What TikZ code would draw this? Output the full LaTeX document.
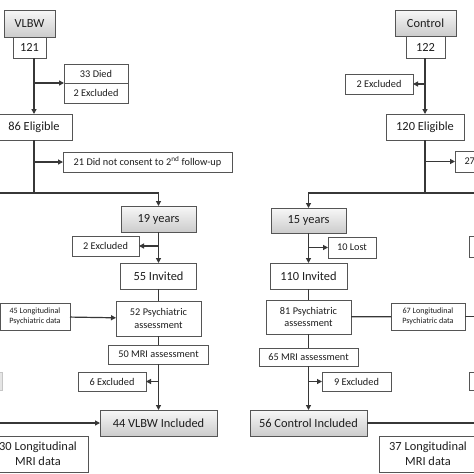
\documentclass[tikz,border=0pt]{standalone}
\usepackage{fontspec}
\setmainfont{Carlito}
\usepackage{xcolor}
\usepackage{tikz}
\usetikzlibrary{arrows.meta,positioning}

\definecolor{linegray}{RGB}{55,55,55}
\definecolor{boxgray}{RGB}{85,85,85}
\definecolor{textgray}{RGB}{30,30,30}

\begin{document}
\begin{tikzpicture}[
    x=1pt, y=-1pt,
    every node/.style={inner sep=0pt, outer sep=0pt, text=textgray, align=center},
    big/.style={font=\fontsize{12.4}{15}\selectfont},
    mid/.style={font=\fontsize{10.3}{12.6}\selectfont},
    tiny/.style={font=\fontsize{8.1}{9.7}\selectfont},
    box/.style={draw=boxgray, line width=0.8pt, fill=white},
    head/.style={draw=boxgray, line width=0.8pt, top color=gray!6, bottom color=gray!40},
    flow/.style={draw=linegray, line width=1.2pt, -{Triangle[length=5pt,width=5pt]}},
    link/.style={draw=linegray, line width=1.2pt}
]
\useasboundingbox (0,0) rectangle (474,474);
\fill[white] (0,0) rectangle (474,474);
\clip (0,0) rectangle (474,474);

\node[head,big,minimum width=51pt,minimum height=27pt] (vlbw) at (29.5,23.5) {VLBW};
\node[box,big,minimum width=33pt,minimum height=21pt,below=0pt of vlbw] (n121) {121};
\node[box,mid,minimum width=64pt,minimum height=19pt] (died) at (96,73.5) {33 Died};
\node[box,mid,minimum width=64pt,minimum height=20pt,below=0pt of died] (excl1) {2 Excluded};
\node[box,big,minimum width=76pt,minimum height=26pt] (elig) at (34,127) {86 Eligible};
\node[box,mid,minimum width=169pt,minimum height=20pt] (consent) at (147.5,162) {21 Did not consent to 2\textsuperscript{nd} follow-up};
\node[head,big,minimum width=75pt,minimum height=26pt] (yrs19) at (158.5,219) {19 years};
\node[box,mid,minimum width=67pt,minimum height=20pt] (excl2) at (105.5,246) {2 Excluded};
\node[box,big,minimum width=76pt,minimum height=26pt] (inv55) at (158.5,276) {55 Invited};
\node[box,mid,minimum width=85pt,minimum height=35pt] (psy52) at (158.5,318.5) {52 Psychiatric\\assessment};
\node[box,tiny,minimum width=70pt,minimum height=27pt] (long45) at (35,316.5) {45 Longitudinal\\Psychiatric data};
\node[box,mid,minimum width=100pt,minimum height=19pt] (mri50) at (158.5,354.5) {50 MRI assessment};
\node[box,mid,minimum width=68pt,minimum height=19pt] (excl6) at (112,381.5) {6 Excluded};
\node[head,big,minimum width=117pt,minimum height=26pt] (inc44) at (158.5,423) {44 VLBW Included};
\node[box,big,minimum width=100pt,minimum height=36pt] (long30) at (38,454) {30 Longitudinal\\MRI data};
\node[draw=gray!45,fill=gray!20,minimum width=60pt,minimum height=18pt] (cutL) at (-28,381) {};

\node[head,big,minimum width=61pt,minimum height=26pt] (ctrl) at (425.5,23) {Control};
\node[box,big,minimum width=39pt,minimum height=22pt,below=0pt of ctrl] (n122) {122};
\node[box,mid,minimum width=68pt,minimum height=20pt] (excl2c) at (379,84) {2 Excluded};
\node[box,big,minimum width=78pt,minimum height=26pt] (elig120) at (425,127) {120 Eligible};
\node[box,mid,minimum width=169pt,minimum height=21pt,text width=150pt,align=left] (consent27) at (539.5,161.5) {27};
\node[head,big,minimum width=75pt,minimum height=25pt] (yrs15) at (308.5,220.5) {15 years};
\node[box,mid,minimum width=48pt,minimum height=21pt] (lost10) at (352,247.5) {10 Lost};
\node[box,big,minimum width=77pt,minimum height=26pt] (inv110) at (308.5,276) {110 Invited};
\node[box,mid,minimum width=85pt,minimum height=34pt] (psy81) at (308.5,317) {81 Psychiatric\\assessment};
\node[box,tiny,minimum width=74pt,minimum height=27pt] (long67) at (428,316.5) {67 Longitudinal\\Psychiatric data};
\node[box,mid,minimum width=99pt,minimum height=18pt] (mri65) at (308.5,357) {65 MRI assessment};
\node[box,mid,minimum width=69pt,minimum height=19pt] (excl9) at (356.5,381.5) {9 Excluded};
\node[head,big,minimum width=117pt,minimum height=26pt] (inc56) at (308.5,423) {56 Control Included};
\node[box,big,minimum width=98pt,minimum height=36pt] (long37) at (428,454) {37 Longitudinal\\MRI data};
\node[box,minimum width=62pt,minimum height=21pt] (cutR1) at (500,246.5) {};
\node[box,minimum width=62pt,minimum height=18pt] (cutR2) at (500,381.5) {};

\coordinate (splitL) at (-10,193);
\coordinate (splitR) at (484,193);
\coordinate (feedL) at (-10,423);
\coordinate (feedR) at (484,423);
\coordinate (longR) at (484,316.5);

\draw[flow] (n121.south -| elig.north) -- (elig.north);
\draw[flow] (died.south west -| elig.north) -- (died.south west);
\draw[link] (elig.south) -- (elig.south |- splitL);
\draw[flow] (consent.west -| elig.south) -- (consent.west);
\draw[flow] (splitL) -| (yrs19.north);
\draw[flow] (yrs19) -- (inv55);
\draw[flow] (yrs19.south |- excl2.east) -- (excl2.east);
\draw[link] (inv55) -- (psy52);
\draw[link] (psy52) -- (mri50);
\draw[flow] (mri50) -- (inc44);
\draw[flow] (mri50.south |- excl6.east) -- (excl6.east);
\draw[flow] (long45) -- (psy52);
\draw[flow] (feedL) -- (inc44.west);

\draw[flow] (n122.south -| elig120.north) -- (elig120.north);
\draw[flow] (elig120.north |- excl2c.east) -- (excl2c.east);
\draw[link] (elig120.south) -- (elig120.south |- splitR);
\draw[flow] (elig120.south |- consent27.west) -- (consent27.west);
\draw[flow] (splitR) -| (yrs15.north);
\draw[flow] (yrs15) -- (inv110);
\draw[flow] (yrs15.south |- lost10.west) -- (lost10.west);
\draw[link] (inv110) -- (psy81);
\draw[link] (psy81) -- (mri65);
\draw[flow] (mri65) -- (inc56);
\draw[flow] (mri65.south |- excl9.west) -- (excl9.west);
\draw[link] (psy81) -- (long67);
\draw[link] (long67) -- (longR);
\draw[link] (inc56) -- (feedR);
\end{tikzpicture}
\end{document}
